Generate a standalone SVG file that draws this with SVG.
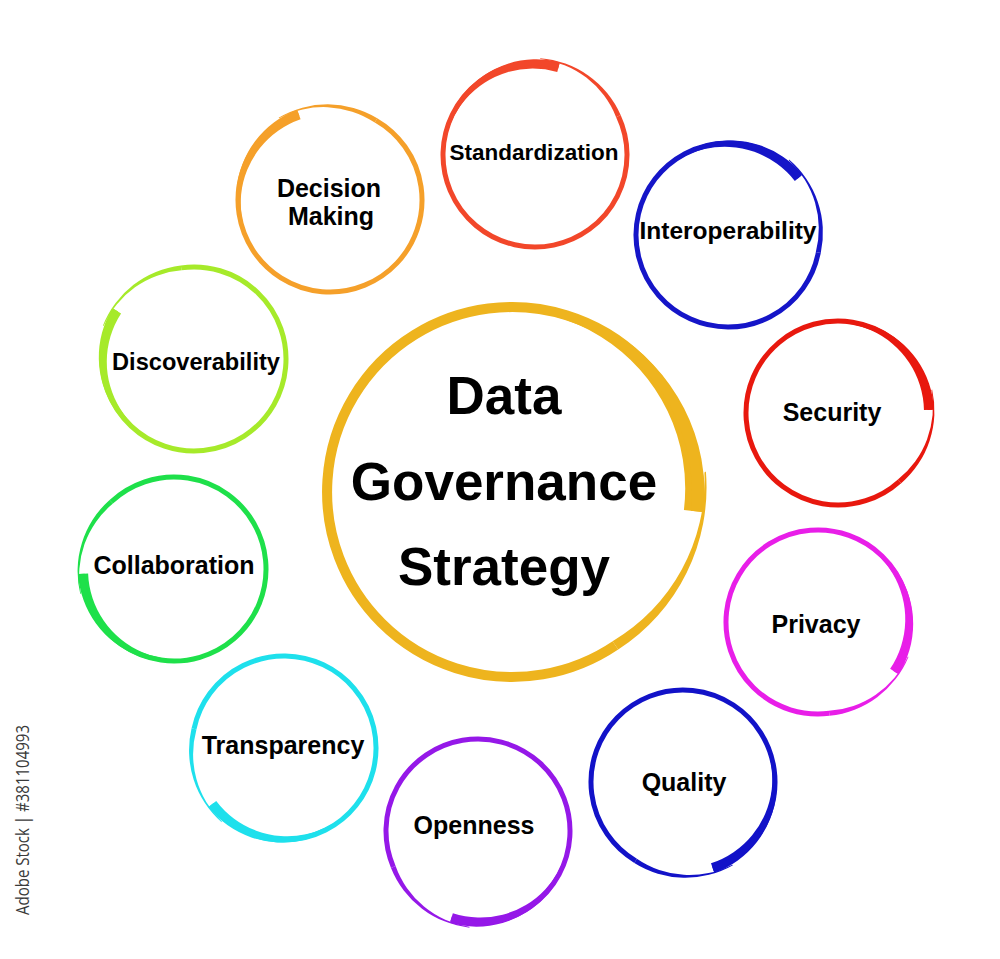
<svg xmlns="http://www.w3.org/2000/svg" xmlns:xlink="http://www.w3.org/1999/xlink" width="1000" height="959" viewBox="0 0 1000 959">
<style>
.lbl{font-family:"Liberation Sans",Arial,Helvetica,sans-serif;font-weight:bold;font-size:25px;fill:#000;text-anchor:middle}
.big{font-size:53px}
.wm{font-family:"Open Sans","Liberation Sans",sans-serif;font-size:19px;fill:#3a3a3a}
</style>
<defs>
<g id="brush">
<path d="M96,0 A94,94 0 0 0 -59.14,-70.47 A89,89 0 0 1 86,0 Z" fill="currentColor"/>
<path d="M92,0 A92,92 0 1 0 59.14,70.48" fill="none" stroke="currentColor" stroke-width="5"/>
<path d="M60.75,72.39 A96,96 0 0 0 94.88,-20.17 L94.2,-19.6 A93,93 0 0 1 57.53,68.56 Z" fill="currentColor"/>
</g>
</defs>
<rect width="1000" height="959" fill="#fff"/>
<g id="central" style="color:#eeb41e">
<use xlink:href="#brush" href="#brush" transform="translate(512,492) rotate(6) scale(2.01)"/>
<text class="lbl big" x="504" y="414">Data</text>
<text class="lbl big" x="504" y="500">Governance</text>
<text class="lbl big" x="504" y="585">Strategy</text>
</g>
<g id="standardization" style="color:#f2472a">
<use href="#brush" transform="translate(535,155) rotate(-75)"/>
<text class="lbl" x="534" y="160" style="font-size:22.5px">Standardization</text>
</g>
<g id="decision-making" style="color:#f5a02a">
<use href="#brush" transform="translate(330,200) rotate(-110)"/>
<text class="lbl" x="329" y="197">Decision</text>
<text class="lbl" x="331" y="225">Making</text>
</g>
<g id="interoperability" style="color:#1515c8">
<use href="#brush" transform="translate(728,235) rotate(-39)"/>
<text class="lbl" x="728" y="239" style="font-size:24.5px">Interoperability</text>
</g>
<g id="security" style="color:#e8180e">
<use href="#brush" transform="translate(838,413) rotate(-2)"/>
<text class="lbl" x="832" y="421">Security</text>
</g>
<g id="privacy" style="color:#e81ee8">
<use href="#brush" transform="translate(818,622) rotate(33)"/>
<text class="lbl" x="816" y="633">Privacy</text>
</g>
<g id="quality" style="color:#1212c8">
<use href="#brush" transform="translate(683,782) rotate(71)"/>
<text class="lbl" x="684" y="791">Quality</text>
</g>
<g id="openness" style="color:#9518e8">
<use href="#brush" transform="translate(478,831) rotate(107)"/>
<text class="lbl" x="474" y="834">Openness</text>
</g>
<g id="transparency" style="color:#1ee0ec">
<use href="#brush" transform="translate(284,748) rotate(142)"/>
<text class="lbl" x="283" y="754">Transparency</text>
</g>
<g id="collaboration" style="color:#1ee04a">
<use href="#brush" transform="translate(174,569) rotate(177)"/>
<text class="lbl" x="174" y="574">Collaboration</text>
</g>
<g id="discoverability" style="color:#a6ea2a">
<use href="#brush" transform="translate(194,359) rotate(212)"/>
<text class="lbl" x="196" y="370" style="font-size:23.6px">Discoverability</text>
</g>
<g id="connectors"/>
<text class="wm" transform="translate(29,915) rotate(-90)" textLength="190" lengthAdjust="spacingAndGlyphs">Adobe Stock | #381104993</text>
</svg>
